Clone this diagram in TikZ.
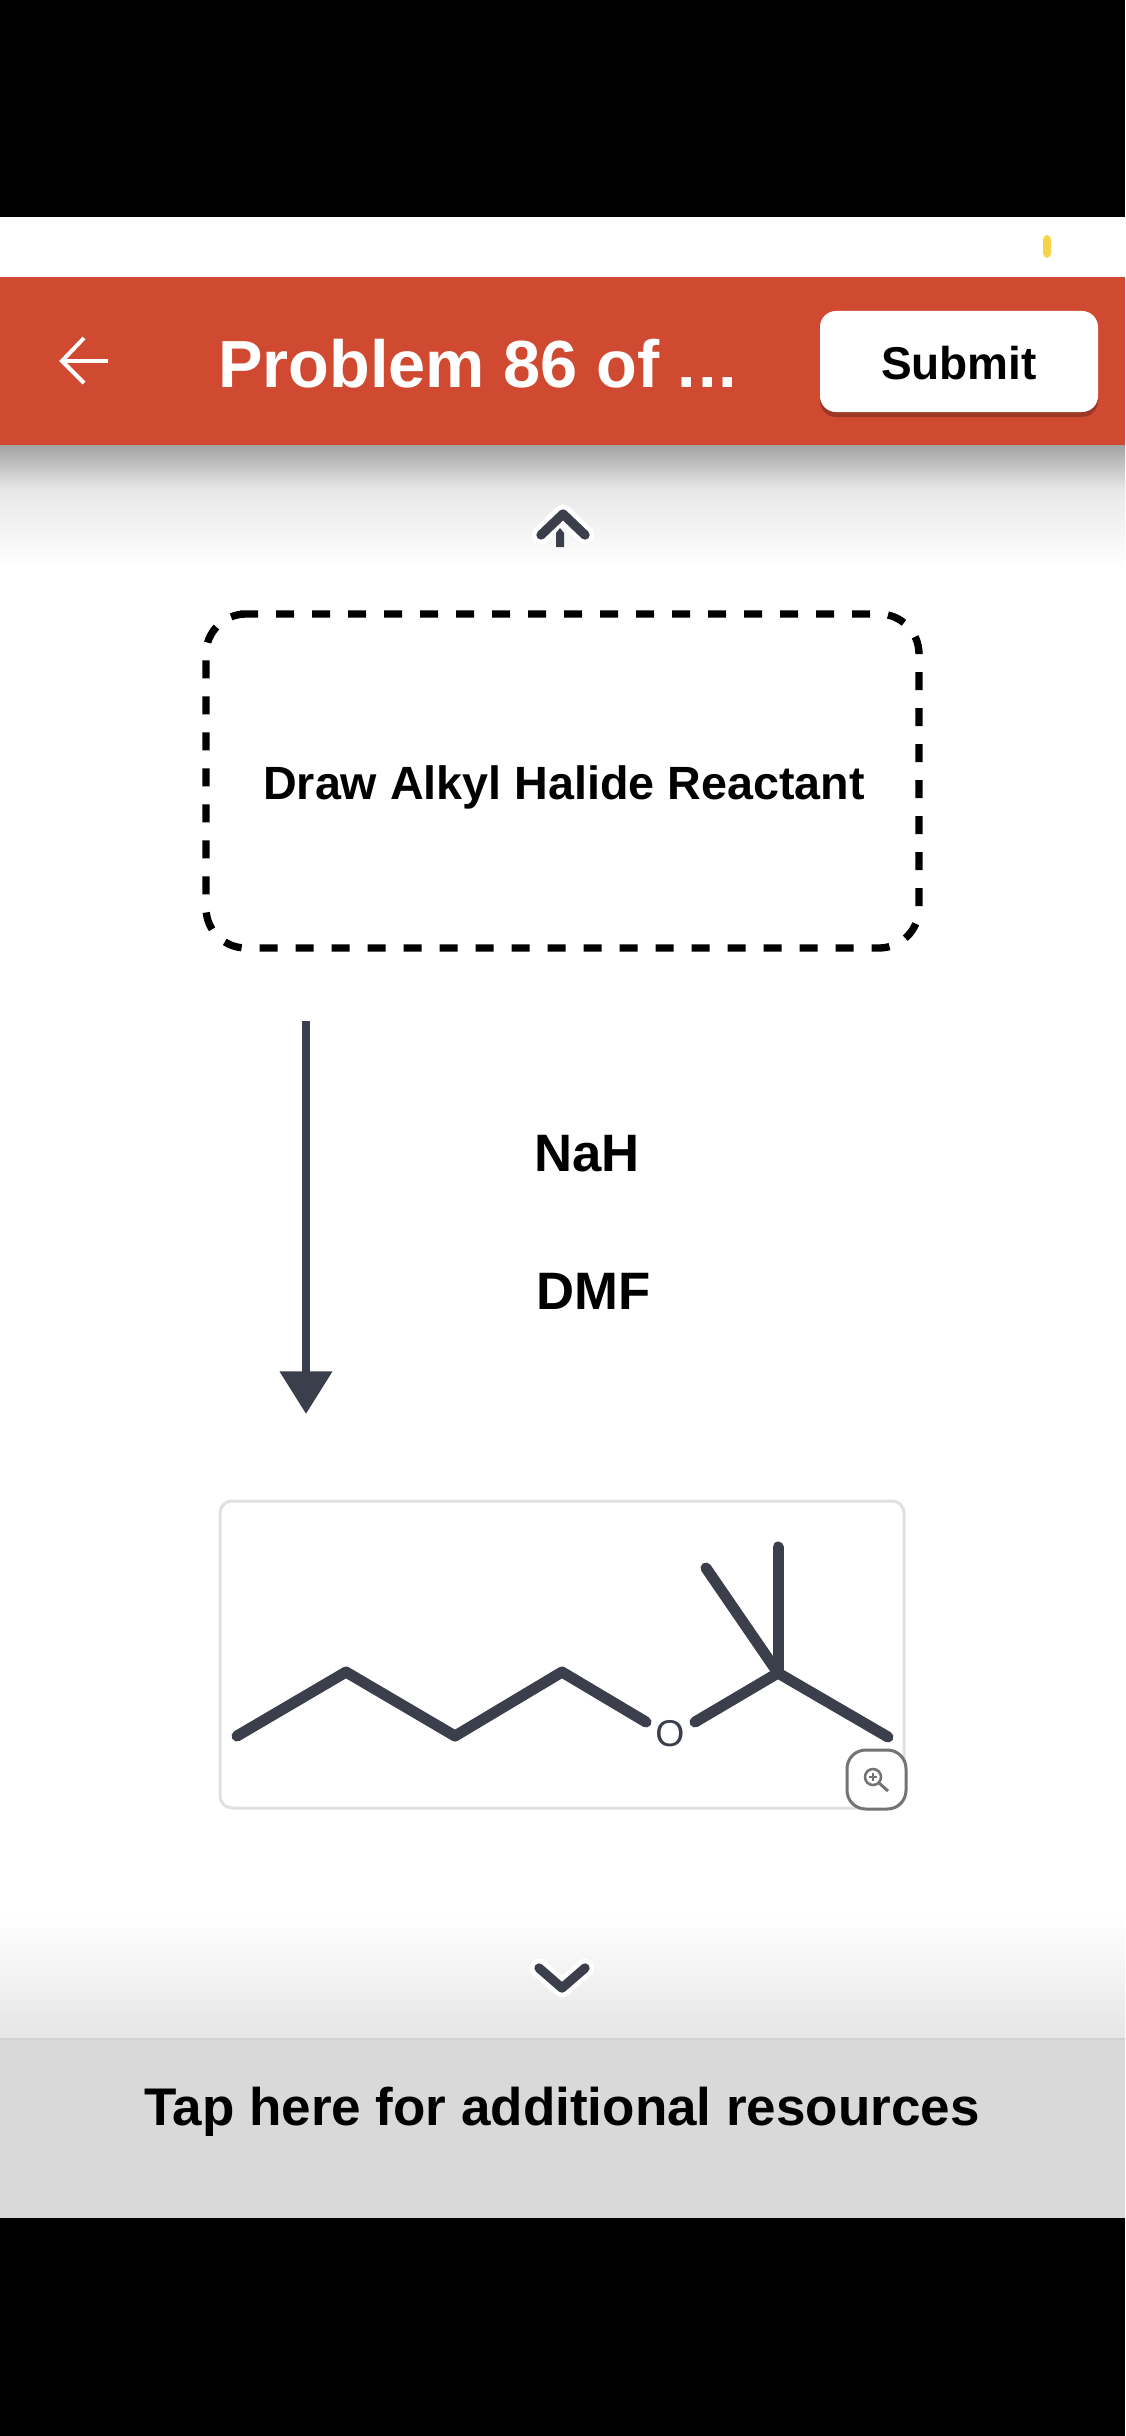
\documentclass[tikz,border=0pt]{standalone}
\usepackage{fontspec}
\setmainfont{Liberation Sans}
\usetikzlibrary{arrows.meta}
\definecolor{barred}{HTML}{D04A32}
\definecolor{inkgray}{HTML}{3A3F4B}
\definecolor{footgray}{HTML}{D9D9D9}
\definecolor{pillyellow}{HTML}{F5D547}
\tikzset{every picture/.style={line width=0.75pt}}
\tikzset{
  uitext/.style={inner sep=0pt,anchor=base,font=\bfseries\fontsize{#1}{#1}\selectfont},
  bond/.style={draw=inkgray,line width=8.25pt,line cap=round,line join=round},
  chevron/.style={draw=inkgray,line width=7pt,line join=round,line cap=round},
  halo/.style={draw=white,line width=14pt,line join=round,line cap=round}
}

\begin{document}
\begin{tikzpicture}[x=0.75pt,y=0.75pt,yscale=-1,xscale=1]
\useasboundingbox (0,0) rectangle (1125,2436);
\fill[white] (0,0) rectangle (1125,2436);
% phone bars
\fill[black] (0,0) rectangle (1125,217);
\fill[black] (0,2218) rectangle (1125,2436);
\fill[pillyellow,rounded corners=3.5] (1043,235) rectangle (1051,258);
% header shadow
\shade[top color=black!9,bottom color=white] (0,490) rectangle (1125,568);
\shade[top color=black!36,bottom color=black!9] (0,445) rectangle (1125,490);
% header
\fill[barred] (0,277) rectangle (1125,445);
\draw[white,line width=3pt] (108,361) -- (62,361);
\draw[white,line width=3pt] (84,338) -- (62,361) -- (84,383);
\draw (218,387) node [uitext=50pt,anchor=base west,text=white] (titletext) {Problem 86 of .\kern1.5pt.\kern1.5pt.};
\fill[barred!75!black,rounded corners=12] (820,316) rectangle (1098,417);
\fill[white,rounded corners=12] (820,311) rectangle (1098,412);
\draw (959,379) node [uitext=34.5pt] (submittext) {Submit};
% up chevron
\coordinate (upl) at (541,535);
\coordinate (upc) at (563,514);
\coordinate (upr) at (585,535);
\draw[halo] (upl) -- (upc) -- (upr);
\fill[inkgray] (556,533) -- (560,528) -- (564,533) -- (564,547) -- (556,547) -- cycle;
\draw[chevron] (upl) -- (upc) -- (upr);
% reactant box
\draw[line width=5.5pt,rounded corners=30,dash pattern=on 13.5pt off 13.5pt] (240,614) -- (919,614) -- (919,948) -- (206,948) -- (206,614) -- (240,614);
\draw (564,799) node [uitext=35pt] (reactanttext) {Draw Alkyl Halide Reactant};
% reaction arrow
\coordinate (arrowtop) at (306,1021);
\coordinate (arrowtip) at (306,1414);
\draw[draw=inkgray,line width=6.5pt,-{Triangle[length=32pt,width=38pt,fill=inkgray]}] (arrowtop) -- (arrowtip);
\draw (534,1171) node [uitext=39.5pt,anchor=base west] (nahtext) {NaH};
\draw (536,1309) node [uitext=39.5pt,anchor=base west] (dmftext) {DMF};
% product
\draw[black!12,line width=2.25pt,rounded corners=9] (220,1501) rectangle (904,1808);
\coordinate (c1) at (237,1736);
\coordinate (c2) at (346,1672);
\coordinate (c3) at (455,1736);
\coordinate (c4) at (562,1672);
\coordinate (o1) at (646,1722);
\coordinate (o2) at (695,1722);
\coordinate (c5) at (778,1673);
\coordinate (c6) at (888,1737);
\coordinate (c7) at (778,1547);
\coordinate (c8) at (706,1568);
\draw[bond] (c1) -- (c2) -- (c3) -- (c4) -- (o1);
\draw[bond] (o2) -- (c5) -- (c6);
\draw[bond] (c5) -- (c7);
\draw[bond] (c5) -- (c8);
\draw (670,1734) node [inner sep=0pt,font=\fontsize{28pt}{28pt}\selectfont,text=inkgray] (oxygen) {O};
% zoom button
\draw[black!55,line width=2.25pt,fill=white,rounded corners=14] (847,1750) rectangle (906,1809);
\draw[black!55,line width=1.9pt] (873,1777) circle [radius=8];
\draw[black!55,line width=2.25pt] (879,1783) -- (888,1791);
\draw[black!55,line width=1.2pt] (869,1777) -- (877,1777) (873,1773) -- (873,1781);
% footer
\shade[top color=white,bottom color=black!10] (0,1915) rectangle (1125,2038);
\fill[footgray] (0,2038) rectangle (1125,2218);
\draw[black!18,line width=2pt] (0,2039) -- (1125,2039);
\coordinate (dnl) at (539,1968);
\coordinate (dnc) at (562,1988);
\coordinate (dnr) at (585,1968);
\draw[halo] (dnl) -- (dnc) -- (dnr);
\draw[chevron] (dnl) -- (dnc) -- (dnr);
\draw (562,2125) node [uitext=39.75pt] (resourcetext) {Tap here for additional resources};
\end{tikzpicture}
\end{document}
